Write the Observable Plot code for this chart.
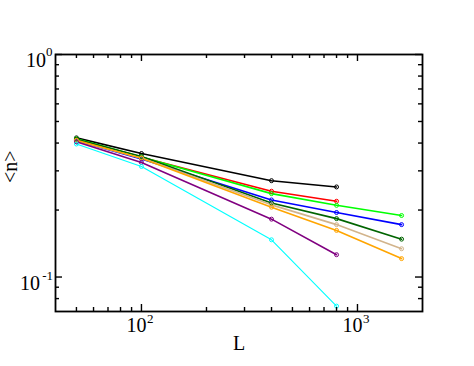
<!DOCTYPE html>
<html><head><meta charset="utf-8">
<script src="https://cdn.jsdelivr.net/npm/d3@7"></script>
<script src="https://cdn.jsdelivr.net/npm/@observablehq/plot@0.6"></script>
<style>body{margin:0;background:#fff}#chart svg{display:block}</style>
</head><body><div id="chart"></div>
<script>
// System sizes L
const sizes = [50, 100, 400, 800, 1600];
// <n> per series
const nBlack     = [0.422, 0.359, 0.271, 0.254];
const nRed       = [0.414, 0.345, 0.243, 0.219];
const nLime      = [0.418, 0.346, 0.237, 0.210, 0.189];
const nBlue      = [0.410, 0.339, 0.222, 0.195, 0.172];
const nDarkGreen = [0.416, 0.348, 0.215, 0.183, 0.148];
const nTan       = [0.409, 0.343, 0.211, 0.172, 0.134];
const nOrange    = [0.412, 0.342, 0.206, 0.162, 0.121];
const nPurple    = [0.405, 0.327, 0.182, 0.126];
const nCyan      = [0.396, 0.314, 0.147, 0.074];

const seriesNames = ["black","red","lime","blue","darkgreen","tan","orange","purple","cyan"];
const seriesColors = ["#000000","#ee1111","#11ee11","#1111ee","#118811","#c8a09a","#ffa500","#9a22d0","#22eeee"];
const seriesValues = [nBlack,nRed,nLime,nBlue,nDarkGreen,nTan,nOrange,nPurple,nCyan];

// Axis ticks
const xMajor = [100, 1000];
const xMinor = [50, 60, 70, 80, 90, 200, 300, 400, 500, 600, 700, 800, 900];
const yMajor = [0.1, 1];
const yMinor = [0.08, 0.09, 0.2, 0.3, 0.4, 0.5, 0.6, 0.7, 0.8, 0.9];
const xLabelExp = ["2", "3"];

const data = [];
seriesValues.forEach((vals, i) => vals.forEach((v, j) => data.push({series: seriesNames[i], L: sizes[j], n: v})));

const W = 474, H = 366, mL = 55, mR = 52, mT = 54, mB = 55;
const pw = W - mL - mR, ph = H - mT - mB;
const font = "'Liberation Serif', 'Times New Roman', serif";
const big = 20, small = 13;
const maj = 7, mnr = 4;
const txt = {fontFamily: font, fill: "#000"};

const chart = Plot.plot({
  width: W, height: H,
  marginLeft: mL, marginRight: mR, marginTop: mT, marginBottom: mB,
  style: {fontFamily: font, background: "#fff", color: "#000"},
  x: {type: "log", domain: [40, 2000], axis: null},
  y: {type: "log", domain: [0.07, 1], axis: null},
  color: {domain: seriesNames, range: seriesColors},
  marks: [
    Plot.line(data, {x: "L", y: "n", z: "series", stroke: "series", strokeWidth: d => d.series === "cyan" ? 1.1 : 1.6}),
    Plot.dot(data, {x: "L", y: "n", stroke: "series", r: 2, fill: "none", strokeWidth: 1}),
    // inward ticks, bottom & top
    Plot.ruleX(xMajor, {x: d => d, insetTop: ph - maj, stroke: "#000", strokeWidth: 1.4}),
    Plot.ruleX(xMajor, {x: d => d, insetBottom: ph - maj, stroke: "#000", strokeWidth: 1.4}),
    Plot.ruleX(xMinor, {x: d => d, insetTop: ph - mnr, stroke: "#000", strokeWidth: 1.4}),
    Plot.ruleX(xMinor, {x: d => d, insetBottom: ph - mnr, stroke: "#000", strokeWidth: 1.4}),
    // inward ticks, left & right
    Plot.ruleY(yMajor, {y: d => d, insetRight: pw - maj, stroke: "#000", strokeWidth: 1.4}),
    Plot.ruleY(yMajor, {y: d => d, insetLeft: pw - maj, stroke: "#000", strokeWidth: 1.4}),
    Plot.ruleY(yMinor, {y: d => d, insetRight: pw - mnr, stroke: "#000", strokeWidth: 1.4}),
    Plot.ruleY(yMinor, {y: d => d, insetLeft: pw - mnr, stroke: "#000", strokeWidth: 1.4}),
    Plot.frame({stroke: "#000", strokeWidth: 1.8}),
    // x tick labels 10^2, 10^3
    Plot.text(xMajor, {x: d => d, frameAnchor: "bottom", text: () => "10", textAnchor: "end", dx: 5, dy: 20, fontSize: big, ...txt}),
    Plot.text(xMajor, {x: d => d, frameAnchor: "bottom", text: (d, i) => xLabelExp[i], textAnchor: "start", dx: 5.5, dy: 11, fontSize: small, ...txt}),
    // y tick labels 10^0, 10^-1
    Plot.text([1], {y: d => d, frameAnchor: "left", text: () => "10", textAnchor: "end", dx: -9.5, dy: 6.5, fontSize: big, ...txt}),
    Plot.text([1], {y: d => d, frameAnchor: "left", text: () => "0", textAnchor: "end", dx: -3, dy: -2.5, fontSize: small, ...txt}),
    Plot.text([0.1], {y: d => d, frameAnchor: "left", text: () => "10", textAnchor: "end", dx: -15.5, dy: 6.5, fontSize: big, ...txt}),
    Plot.text([0.1], {y: d => d, frameAnchor: "left", text: () => "-1", textAnchor: "end", dx: -2.5, dy: -1.5, fontSize: small, ...txt}),
    // axis titles
    Plot.text(["L"], {frameAnchor: "bottom", text: d => d, dy: 38, fontSize: big, ...txt}),
    Plot.text(["<n>"], {frameAnchor: "left", text: d => d, rotate: -90, dx: -44.5, fontSize: big, ...txt})
  ]
});
document.getElementById("chart").appendChild(chart);
</script>
</body></html>
